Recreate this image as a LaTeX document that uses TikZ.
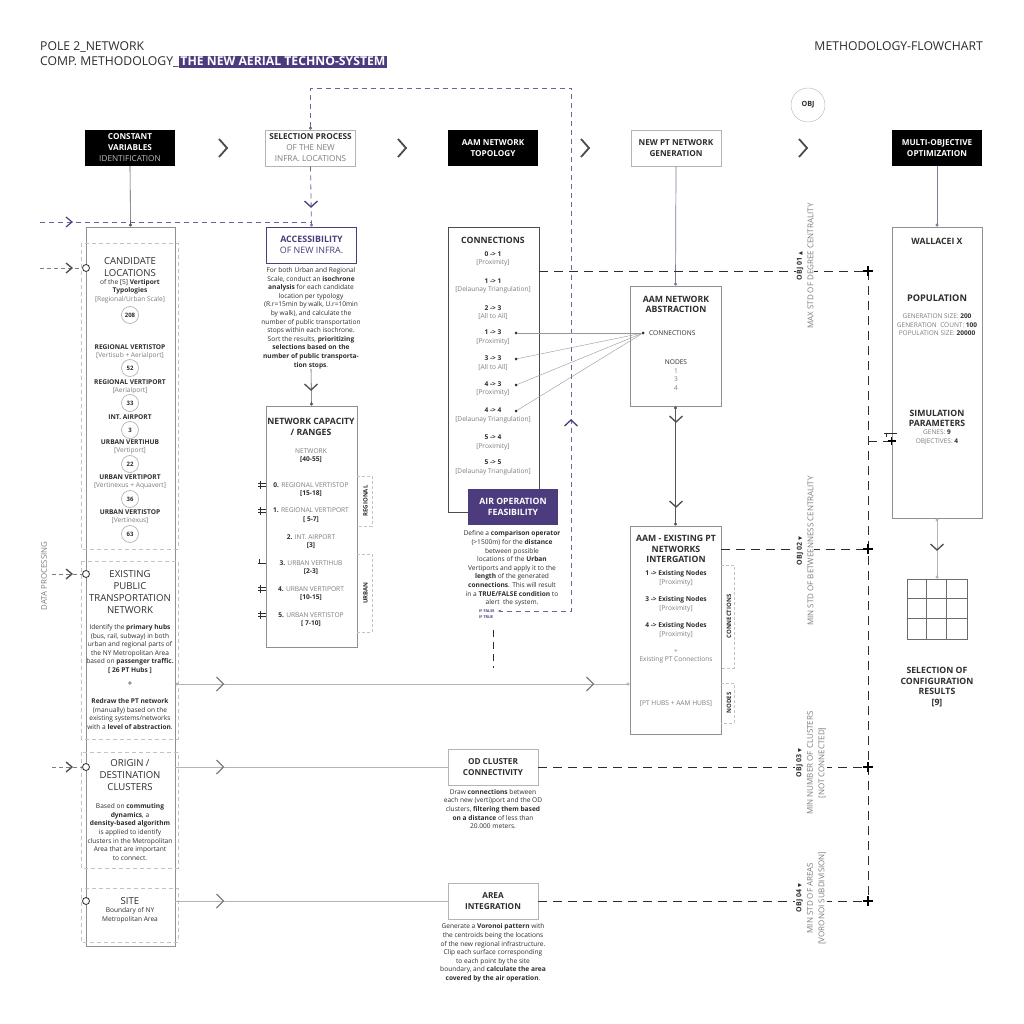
\documentclass[tikz,border=0pt]{standalone}
\usepackage{fontspec}
\setmainfont{Open Sans}
\newfontfamily\triafont{DejaVu Sans}
\usetikzlibrary{positioning, arrows.meta, calc}
\definecolor{purp}{RGB}{76,59,125}
\definecolor{ink}{RGB}{45,45,45}
\definecolor{softgray}{RGB}{125,125,125}
\definecolor{rulegray}{RGB}{180,180,180}

\begin{document}
\begin{tikzpicture}[
    x=1pt, y=-1pt,
    head/.style={rectangle, minimum width=90, minimum height=36, inner sep=1pt, align=center, font=\fontsize{8.2}{11}\selectfont\bfseries},
    blackhead/.style={head, fill=black, text=white},
    whitehead/.style={head, draw=rulegray, line width=0.8, text=ink},
    bigframe/.style={rectangle, draw=rulegray!80!black, line width=0.8, inner sep=0pt},
    title/.style={align=center, text=ink, inner sep=0pt, font=\fontsize{9.6}{11.8}\selectfont},
    boxtitle/.style={align=center, text=ink, inner sep=0pt, font=\fontsize{8.7}{10.7}\selectfont\bfseries},
    body/.style={align=center, text=ink, inner sep=0pt, font=\fontsize{6.6}{8.6}\selectfont},
    tinytext/.style={align=center, text=softgray, inner sep=0pt, font=\fontsize{6.5}{8.5}\selectfont},
    num/.style={circle, draw=rulegray, line width=0.7, minimum size=17, inner sep=0pt, text=ink, font=\fontsize{6}{6}\selectfont\bfseries},
    port/.style={circle, draw=ink, fill=white, line width=0.8, minimum size=7, inner sep=0pt},
    dot/.style={circle, fill=ink, minimum size=3, inner sep=0pt},
    sidelab/.style={rotate=90, inner sep=0pt, text=ink, font=\fontsize{6}{6}\selectfont\bfseries},
    objlab/.style={rotate=90, align=center, fill=white, inner sep=1pt, text=ink, font=\fontsize{8}{11.5}\selectfont},
    link/.style={draw=ink!80, line width=0.6},
    purpline/.style={draw=purp!70, line width=0.7},
    feed/.style={draw=rulegray, line width=0.7},
    spoke/.style={draw=softgray!80, line width=0.4},
    secdash/.style={draw=rulegray!80, line width=0.6, dash pattern=on 4pt off 3pt},
    bracket/.style={draw=rulegray!80, line width=0.6, dash pattern=on 3pt off 2pt},
    lead/.style={draw=softgray, line width=0.7, dash pattern=on 4pt off 3pt},
    purpdash/.style={draw=purp!80, line width=0.8, dash pattern=on 5pt off 4pt},
    objdash/.style={draw=ink, line width=0.9, dash pattern=on 9pt off 6pt},
    plusmark/.style={draw=black, line width=1.1},
    ermark/.style={draw=ink, line width=0.8},
    chevbig/.style={draw=ink!85, line width=1.8, line join=miter},
    chevsm/.style={draw=softgray, line width=1.1},
    chevdn/.style={draw=ink!85, line width=1.3},
    dotend/.style={-{Circle[length=3pt]}},
    dotboth/.style={{Circle[length=3pt]}-{Circle[length=3pt]}}
]
\fill[white] (0,0) rectangle (1024,1024);
\useasboundingbox (0,0) rectangle (1024,1024);

% header
\node[anchor=base west, inner sep=0pt, text=ink, font=\fontsize{12.2}{14}\selectfont] (pole) at (40,51) {POLE 2\_NETWORK};
\node[anchor=base west, inner sep=0pt, text=ink, font=\fontsize{12.2}{14}\selectfont] (comp) at (40,66) {COMP. METHODOLOGY\_};
\node[anchor=base west, inner sep=1.5pt, fill=purp, text=white, font=\fontsize{12.2}{14}\selectfont\bfseries] (techno) at (comp.base east) {THE NEW AERIAL TECHNO-SYSTEM};
\node[anchor=base east, inner sep=0pt, text=ink, font=\fontsize{12.2}{14}\selectfont] (mfc) at (983,51) {METHODOLOGY-FLOWCHART};

% column heads
\node[blackhead] (const) at (130,148) {CONSTANT\\VARIABLES\\\mdseries\color{white!75!black}IDENTIFICATION};
\node[whitehead] (selp) at (310.5,148) {SELECTION PROCESS\\\mdseries\color{softgray}OF THE NEW\\\mdseries\color{softgray}INFRA. LOCATIONS};
\node[blackhead] (topo) at (493,148) {AAM NETWORK\\TOPOLOGY};
\node[whitehead] (newpt) at (676,148) {NEW PT NETWORK\\GENERATION};
\node[blackhead] (moo) at (937,148) {MULTI-OBJECTIVE\\OPTIMIZATION};
\node[circle, draw=rulegray, minimum size=34, inner sep=0pt, text=ink, font=\fontsize{7.2}{7}\selectfont\bfseries] (obj) at (808,105) {OBJ};
\foreach \x in {223,402,585,803}
    \draw[chevbig] ({\x-4},139) -- ({\x+4},148) -- ({\x-4},157);

% constant variables column
\node[bigframe, minimum width=89, minimum height=719] (constbox) at (130.5,586.5) {};
\draw[link, dotend] (const.south) -- (constbox.north);
\foreach \ya/\yb in {243/549, 561/739, 752/868, 888/942}
    \draw[secdash] (81,\ya) rectangle (178,\yb);

\node[title] (cand) at (130,267) {CANDIDATE\\LOCATIONS};
\node[body] (candsub) at (130,291) {of the [5] \textbf{Vertiport}\\\textbf{Typologies}\\\textcolor{softgray}{[Regional/Urban Scale]}};
\node[num] (n208) at (130,315) {208};
\foreach \i/\yt/\nm/\sb/\yn/\v in {1/352/REGIONAL VERTISTOP/[Vertisub + Aerialport]/368/52,
    2/387/REGIONAL VERTIPORT/[Aerialport]/403/33, 4/447/URBAN VERTIHUB/[Vertiport]/464/22,
    5/482/URBAN VERTIPORT/[Vertinexus + Aquavert]/499/36, 6/516.5/URBAN VERTISTOP/[Vertinexus]/534/63}
{
    \node[body] (typ\i) at (130,\yt) {\textbf{\nm}\\\textcolor{softgray}{\sb}};
    \node[num] (cnt\i) at (130,\yn) {\v};
}
\node[body] (typ3) at (130,417) {\textbf{INT. AIRPORT}};
\node[num] (cnt3) at (130,430) {3};

\node[title] (expt) at (130,592) {EXISTING\\PUBLIC\\TRANSPORTATION\\NETWORK};
\node[body] (exptA) at (130,649) {Identify the \textbf{primary hubs}\\(bus, rail, subway) in both\\urban and regional parts of\\the NY Metropolitan Area\\based on \textbf{passenger traffic.}\\\textbf{[ 26 PT Hubs ]}};
\node[body, font=\fontsize{8.5}{9}\selectfont] (plus1) at (130,684) {+};
\node[body] (exptB) at (130,714) {\textbf{Redraw the PT network}\\(manually) based on the\\existing systems/networks\\with a \textbf{level of abstraction}.};

\node[title] (odc) at (130,775) {ORIGIN /\\DESTINATION\\CLUSTERS};
\node[body] (odcB) at (130,832) {Based on \textbf{commuting}\\\textbf{dynamics}, a\\\textbf{density-based algorithm}\\is applied to identify\\clusters in the Metropolitan\\Area that are important\\to connect.};

\node[title] (site) at (130,901) {SITE};
\node[body] (siteB) at (130,915.5) {Boundary of NY\\Metropolitan Area};

\node[rotate=90, inner sep=0pt, text=softgray, font=\fontsize{7.9}{8}\selectfont] (dp) at (44,576) {DATA PROCESSING};

% inputs on the left
\foreach \i/\y in {1/268, 2/574, 3/767, 4/901}
    \node[port] (p\i) at (86,\y) {};
\foreach \i/\y/\xs in {1/268/40, 2/574/52, 3/767/52}
{
    \coordinate (l\i) at (\xs,\y);
    \draw[lead] (l\i) -- (p\i.west);
    \draw[chevdn] (66,{\y-5}) -- (72,\y) -- (66,{\y+5});
}

% selection process column
\node[whitehead, draw=purp, line width=0.9, text=purp, font=\fontsize{8.9}{11}\selectfont\bfseries] (acc) at (311.5,245) {ACCESSIBILITY\\\mdseries OF NEW INFRA.};
\coordinate (l0) at (40,222);
\coordinate (accin) at (311.5,222);
\draw[purpdash] (l0) -- (accin);
\draw[draw=purp, line width=1.2] (66,217) -- (72,222) -- (66,227);
\draw[purpdash, -{Circle[open, length=3pt]}] (selp.south) -- (acc.north);
\draw[draw=purp, line width=1.3] (304.5,201) -- (311,207) -- (317.5,201);

\node[body] (accB) at (311,318) {For both Urban and Regional\\Scale, conduct an \textbf{isochrone}\\\textbf{analysis} for each candidate\\location per typology\\(R.r=15min by walk, U.r=10min\\by walk), and calculate the\\number of public transportation\\stops within each isochrone.\\Sort the results, \textbf{prioritizing}\\\textbf{selections based on the}\\\textbf{number of public transporta-}\\\textbf{tion stops}.};

\node[bigframe, minimum width=91, minimum height=241] (cap) at (311.5,526.5) {};
\draw[link, dotend] (accB.south) -- (cap.north);
\draw[chevdn] (304.5,384) -- (311,390) -- (317.5,384);
\node[boxtitle] (capT) at (311,427) {NETWORK CAPACITY\\/ RANGES};
\node[body] (capN) at (311,455.5) {\textcolor{softgray}{NETWORK}\\\textbf{[40-55]}};
\foreach \i/\y/\nm/\rg in {0/489.5/REGIONAL VERTISTOP/[15-18], 1/515/REGIONAL VERTIPORT/[ 5-7],
    2/541.5/INT. AIRPORT/[3], 3/567.5/URBAN VERTIHUB/[2-3], 4/593.5/URBAN VERTIPORT/[10-15],
    5/619.5/URBAN VERTISTOP/[ 7-10]}
    \node[body] (rng\i) at (311,\y) {\textbf{\i.} \textcolor{softgray}{\nm}\\\textbf{\rg}};
\foreach \y in {485,511,589,615}
    \draw[ermark] (258,{\y-1.6}) -- (266,{\y-1.6}) (258,{\y+1.6}) -- (266,{\y+1.6}) (260.5,{\y-4}) -- (260.5,{\y+4});
\draw[ermark] (258,563) -- (266,563) (259,563) -- (259,559);
\draw[bracket] (357,476) -- (372,476) -- (372,526) -- (357,526);
\draw[bracket] (357,554) -- (372,554) -- (372,632) -- (357,632);
\node[sidelab] (reg) at (365.5,501) {REGIONAL};
\node[sidelab] (urb) at (365.5,593) {URBAN};

% network topology column
\node[bigframe, draw=ink!85, line width=0.9, minimum width=91, minimum height=285] (conn) at (493.5,369.5) {};
\node[boxtitle] (connT) at (493,240) {CONNECTIONS};
\foreach \i/\y/\a/\m in {1/259/0 -> 1/Proximity, 2/286/1 -> 1/Delaunay Triangulation,
    3/312.5/2 -> 3/All to All, 4/337.5/1 -> 3/Proximity, 5/363/3 -> 3/All to All,
    6/389/4 -> 3/Proximity, 7/415.5/4 -> 4/Delaunay Triangulation, 8/442.5/5 -> 4/Proximity,
    9/467.5/5 -> 5/Delaunay Triangulation}
    \node[body] (cn\i) at (493,\y) {\textbf{\a}\\\textcolor{softgray}{[\m]}};

\node[head, fill=purp, text=white, font=\fontsize{8.7}{11}\selectfont\bfseries] (airop) at (513,507) {AIR OPERATION\\FEASIBILITY};
\node[body] (airB) at (512,568.5) {Define a \textbf{comparison operator}\\(>1500m) for the \textbf{distance}\\between possible\\locations of the \textbf{Urban}\\Vertiports and apply it to the\\\textbf{length} of the generated\\\textbf{connections}. This will result\\in a \textbf{TRUE/FALSE condition} to\\alert~ the system.};
\node[anchor=west, inner sep=0pt, text=purp, font=\fontsize{3.8}{4}\selectfont\bfseries] (iffalse) at (479,611) {IF FALSE};
\node[anchor=west, inner sep=0pt, text=purp, font=\fontsize{3.8}{4}\selectfont\bfseries] (iftrue) at (479,617.5) {IF TRUE};
\coordinate (tA) at (493,630);
\coordinate (tB) at (493,668);
\draw[objdash, dash pattern=on 7pt off 5pt] (tA) -- (tB);

% feedback loop
\coordinate (loopA) at (310.5,88);
\coordinate (loopB) at (571,88);
\coordinate (loopC) at (571,611);
\draw[purpdash, {Circle[open, length=3pt]}-{Stealth[length=3.5pt]}] (selp.north) -- (loopA) -- (loopB) -- (loopC) -- ($(iffalse.east)+(3,0)$);
\draw[draw=purp, line width=1.3] (564.5,426) -- (571,420) -- (577.5,426);

\node[whitehead] (od) at (493,767) {OD CLUSTER\\CONNECTIVITY};
\node[body] (odB) at (493,809) {Draw \textbf{connections} between\\each new (verti)port and the OD\\clusters, \textbf{filtering them based}\\\textbf{on a distance} of less than\\20.000 meters.};
\node[whitehead] (area) at (493,901) {AREA\\INTEGRATION};
\node[body] (areaB) at (493,953) {Generate a \textbf{Voronoi pattern} with\\the centroids being the locations\\of the new regional infrastructure.\\Clip each surface corresponding\\to each point by the site\\boundary, and \textbf{calculate the area}\\\textbf{covered by the air operation}.};

% new pt network column
\node[bigframe, minimum width=91, minimum height=120] (abs) at (675.5,346) {};
\draw[purpline, dotend] (newpt.south) -- (abs.north);
\node[boxtitle] (absT) at (676,304.5) {AAM NETWORK\\ABSTRACTION};
\node[dot] (absdot) at (643,333) {};
\node[body, anchor=west] (absC) at (649,333) {CONNECTIONS};
\node[body] (absN) at (676,375) {NODES\\\textcolor{softgray}{1}\\\textcolor{softgray}{3}\\\textcolor{softgray}{4}};
\foreach \i/\y in {4/333,5/359,6/385,7/411}
{
    \node[dot] (cd\i) at (516,\y) {};
    \draw[spoke] (cd\i) -- (absdot);
}

\node[bigframe, minimum width=91, minimum height=208] (integ) at (675.5,630) {};
\draw[link, dotboth] (abs.south) -- (integ.north);
\foreach \y in {420,505}
    \draw[chevdn] (669.5,{\y-4}) -- (676,{\y+2}) -- (682.5,{\y-4});
\node[boxtitle] (integT) at (676,549) {AAM - EXISTING PT\\NETWORKS\\INTERGATION};
\foreach \i/\y in {1/578.5, 3/604.5, 4/630.5}
    \node[body] (ex\i) at (676,\y) {\textbf{\i{} -> Existing Nodes}\\\textcolor{softgray}{[Proximity]}};
\node[body, text=softgray] (integP) at (676,656.5) {+\\Existing PT Connections};
\node[body, text=softgray] (integH) at (676,704) {[PT HUBS + AAM HUBS]};
\draw[bracket] (721,565) -- (734,565) -- (734,668) -- (721,668);
\draw[bracket] (721,683) -- (734,683) -- (734,723) -- (721,723);
\node[sidelab] (connlab) at (729,616.5) {CONNECTIONS};
\node[sidelab] (nodelab) at (729,703) {NODES};

% data feeds
\coordinate (ptrow) at (175,684);
\draw[feed, dotboth] (constbox.east |- ptrow) -- (integ.west |- ptrow);
\draw[feed] (constbox.east |- od) -- (od.west);
\draw[feed] (constbox.east |- area) -- (area.west);
\foreach \x/\y in {220/684, 590/684, 220/767, 220/901}
    \draw[chevsm] ({\x-3.5},{\y-7}) -- ({\x+3.5},\y) -- ({\x-3.5},{\y+7});

% optimisation column
\node[bigframe, minimum width=90, minimum height=291] (wall) at (937,372.5) {};
\draw[purpline, dotend] (moo.south) -- (wall.north);
\node[boxtitle] (wallT) at (937,241) {WALLACEI X};
\node[boxtitle, font=\fontsize{9.2}{10.7}\selectfont\bfseries] (popT) at (937,298) {POPULATION};
\node[tinytext] (popB) at (937,325) {GENERATION SIZE: \textbf{\color{ink}200}\\GENERATION~ COUNT: \textbf{\color{ink}100}\\POPULATION SIZE: \textbf{\color{ink}20000}};
\node[boxtitle] (simT) at (937,418.5) {SIMULATION\\PARAMETERS};
\node[tinytext] (simB) at (937,437.5) {GENES: \textbf{\color{ink}9}\\OBJECTIVES: \textbf{\color{ink}4}};
\node[bigframe, draw=ink!70, minimum size=60] (res) at (937,609) {};
\foreach \g in {20,40}
    \draw[draw=ink!70, line width=0.8] ($(res.north west)+(\g,0)$) -- ($(res.south west)+(\g,0)$)
        ($(res.north west)+(0,\g)$) -- ($(res.north east)+(0,\g)$);
\draw[feed, dotboth] (wall.south) -- (res.north);
\draw[chevdn] (930.5,544) -- (937,550) -- (943.5,544);
\node[boxtitle] (resT) at (937,687) {SELECTION OF\\CONFIGURATION\\RESULTS\\{[9]}};

% objectives
\coordinate (o1) at (868,271);
\coordinate (o2) at (868,549);
\coordinate (o3) at (868,767);
\coordinate (o4) at (868,901);
\coordinate (o5) at (868,441);
\draw[objdash] (conn.east |- o1) -- (o1);
\draw[objdash] (integ.east |- o2) -- (o2);
\draw[objdash] (od.east) -- (o3);
\draw[objdash] (area.east) -- (o4);
\draw[objdash] (o1) -- (o4);
\draw[objdash] (o5) -- (wall.west |- o5);
\foreach \c in {o1,o2,o3,o4}
    \draw[plusmark] ($(\c)+(-5,0)$) -- ($(\c)+(5,0)$) ($(\c)+(0,-5)$) -- ($(\c)+(0,5)$);
\draw[plusmark] ($(wall.west |- o5)+(-4,0)$) -- ($(wall.west |- o5)+(4,0)$) ($(wall.west |- o5)+(0,-4)$) -- ($(wall.west |- o5)+(0,4)$);
\draw[ermark] (884,433) -- (897,433) (886,433) -- (886,437);

\node[objlab] (ob1) at (805,266) {\textbf{\fontsize{7}{11.5}\selectfont OBJ 01} {\triafont\fontsize{5}{11.5}\selectfont ▲}\\\textcolor{softgray}{MAX STD OF DEGREE CENTRALITY}};
\node[objlab] (ob2) at (805,551) {\textbf{\fontsize{7}{11.5}\selectfont OBJ 02} {\triafont\fontsize{5}{11.5}\selectfont ▼}\\\textcolor{softgray}{MIN STD OF BETWEENNESS CENTRALITY}};
\node[objlab] (ob3) at (811,763) {\textbf{\fontsize{7}{11.5}\selectfont OBJ 03} {\triafont\fontsize{5}{11.5}\selectfont ▼}\\\textcolor{softgray}{MIN NUMBER OF CLUSTERS}\\\textcolor{softgray}{[NOT CONNECTED]}};
\node[objlab] (ob4) at (811,898) {\textbf{\fontsize{7}{11.5}\selectfont OBJ 04} {\triafont\fontsize{5}{11.5}\selectfont ▼}\\\textcolor{softgray}{MIN STD OF AREAS}\\\textcolor{softgray}{[VORONOI SUBDIVISION]}};
\end{tikzpicture}
\end{document}
